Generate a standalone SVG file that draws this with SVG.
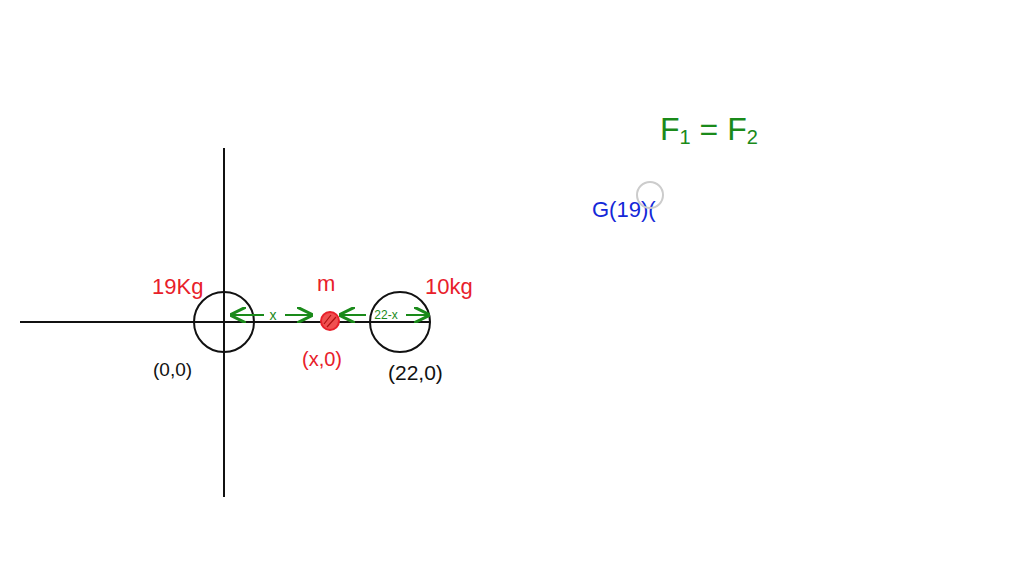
<svg xmlns="http://www.w3.org/2000/svg" width="1024" height="576" viewBox="0 0 1024 576">
<style>
.k{stroke:#111;stroke-width:2;fill:none}
.g{stroke:#1a8a1a;stroke-width:2;fill:none}
.t{font-family:"Liberation Sans",sans-serif}
.r{fill:#e8202a}
</style>
<defs><marker id="a" markerWidth="8" markerHeight="8" refX="7" refY="4" orient="auto-start-reverse"><path d="M0,0 L8,4 L0,8" fill="none" stroke="#1a8a1a" stroke-width="1.5"/></marker></defs>
<rect width="1024" height="576" fill="#fff"/>
<line class="k" x1="20" y1="322" x2="430" y2="322"/>
<line class="k" x1="224" y1="148" x2="224" y2="497"/>
<circle class="k" cx="224" cy="322" r="30"/>
<circle class="k" cx="400" cy="322" r="30"/>
<circle cx="330" cy="321" r="9" fill="#f05050" stroke="#e8202a" stroke-width="2"/>
<path d="M324,324 L331,315 M327,327 L336,317" stroke="#b01010" stroke-width="1.2"/>
<g id="connectors">
<line class="g" x1="264" y1="315" x2="232" y2="315" marker-end="url(#a)"/>
<line class="g" x1="285" y1="315" x2="311" y2="315" marker-end="url(#a)"/>
<line class="g" x1="366" y1="315" x2="341" y2="315" marker-end="url(#a)"/>
<line class="g" x1="406" y1="315" x2="428" y2="315" marker-end="url(#a)"/>
</g>
<text class="t" x="273" y="320" font-size="14" fill="#1a8a1a" text-anchor="middle">x</text>
<text class="t" x="386" y="319" font-size="12" fill="#1a8a1a" text-anchor="middle">22-x</text>
<text class="t r" x="152" y="294" font-size="22">19Kg</text>
<text class="t r" x="317" y="291" font-size="22">m</text>
<text class="t r" x="425" y="294" font-size="22">10kg</text>
<text class="t r" x="302" y="366" font-size="20">(x,0)</text>
<text class="t" x="153" y="376" font-size="19" fill="#111">(0,0)</text>
<text class="t" x="388" y="380" font-size="21" fill="#111">(22,0)</text>
<text class="t" x="660" y="140" font-size="32" fill="#1a8a1a">F<tspan font-size="20" dy="4">1</tspan><tspan dy="-4"> = F</tspan><tspan font-size="20" dy="4">2</tspan></text>
<text class="t" x="592" y="217" font-size="22" fill="#1428d8">G(19)(</text>
<circle cx="650" cy="195" r="13" fill="none" stroke="#ccc" stroke-width="2"/>
</svg>
